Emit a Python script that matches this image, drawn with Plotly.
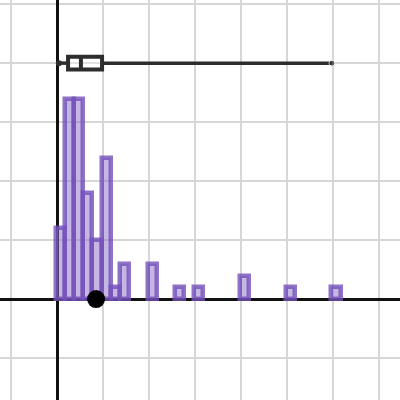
import plotly.graph_objects as go

bin_starts = [-0.03 + 0.2 * i for i in range(31)]
counts = [1.2, 3.4, 3.4, 1.8, 1.0, 2.4, 0.2, 0.6, 0, 0, 0.6, 0, 0, 0.2, 0, 0.2, 0, 0, 0, 0,
          0.4, 0, 0, 0, 0, 0.2, 0, 0, 0, 0, 0.2]
box_stats = {"min": 0.04, "q1": 0.24, "median": 0.52, "q3": 0.98, "max": 5.98}
box_y = 4.0
point_x = [0.85]
point_y = [0]

xs = [s + 0.1 for s, c in zip(bin_starts, counts) if c > 0]
hs = [c for c in counts if c > 0]

fig = go.Figure()
fig.add_trace(go.Bar(x=xs, y=hs, width=0.2,
                     marker=dict(color="rgba(140,110,200,0.5)",
                                 line=dict(color="rgba(115,80,185,0.8)", width=4.5))))
fig.add_trace(go.Scatter(x=[box_stats["min"], box_stats["q1"]], y=[box_y, box_y], mode="lines",
                         line=dict(color="#2d2d2d", width=3.5)))
fig.add_trace(go.Scatter(x=[box_stats["q3"], box_stats["max"]], y=[box_y, box_y], mode="lines+markers",
                         line=dict(color="#2d2d2d", width=3.5), marker=dict(size=[0, 6], color="#2d2d2d")))
fig.add_trace(go.Scatter(x=[box_stats["min"]], y=[box_y], mode="markers", marker=dict(size=6, color="#2d2d2d")))
fig.add_shape(type="rect", x0=box_stats["q1"], x1=box_stats["q3"], y0=box_y - 0.11, y1=box_y + 0.11,
              line=dict(color="#2d2d2d", width=4), fillcolor="rgba(255,255,255,0.3)")
fig.add_shape(type="line", x0=box_stats["median"], x1=box_stats["median"], y0=box_y - 0.11, y1=box_y + 0.11,
              line=dict(color="#2d2d2d", width=4))
fig.add_shape(type="line", x0=4, x1=4, y0=-2, y1=6, line=dict(color="#999", width=1.5), layer="below")
fig.add_trace(go.Scatter(x=point_x, y=point_y, mode="markers", marker=dict(size=18, color="black")))

fig.update_layout(width=400, height=400, margin=dict(l=0, r=0, t=0, b=0), showlegend=False,
                  plot_bgcolor="white", paper_bgcolor="white", bargap=0)
fig.update_xaxes(range=[-1.24, 7.46], dtick=1, tick0=0, showgrid=True, gridcolor="#d6d6d6", gridwidth=1.5,
                 showticklabels=False, zeroline=True, zerolinecolor="#111", zerolinewidth=2.5, fixedrange=True)
fig.update_yaxes(range=[-1.71, 5.07], dtick=1, tick0=0, showgrid=True, gridcolor="#d6d6d6", gridwidth=1.5,
                 showticklabels=False, zeroline=True, zerolinecolor="#111", zerolinewidth=2.5, fixedrange=True)
fig.write_html("out.html", config={"displayModeBar": False},
               post_script="document.body.style.margin='0';document.body.style.overflow='hidden';")
